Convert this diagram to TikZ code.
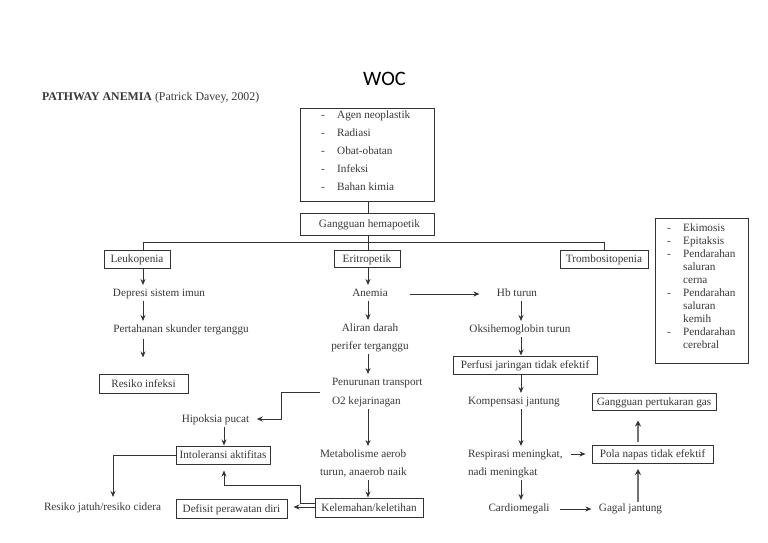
\documentclass[tikz,border=0pt]{standalone}
\usepackage{fontspec}
\setmainfont{Liberation Serif}
\newfontfamily\wocfont{Carlito}
\usetikzlibrary{arrows.meta}
\definecolor{ink}{gray}{0.2}
\definecolor{txt}{gray}{0.22}
\newcommand{\itm}[1]{\makebox[16pt][l]{-}#1}
\tikzset{
  x=1pt,y=-1pt,
  lab/.style={text=txt,font=\fontsize{11.2}{13}\selectfont,inner sep=0pt,text height=9pt,text depth=2pt,outer sep=2.5pt},
  labl/.style={lab,anchor=west},
  bx/.style={draw=ink,line width=1pt,text=txt,font=\fontsize{11.2}{13}\selectfont,inner sep=0pt,text height=9pt,text depth=2pt},
  lst/.style={text=txt,anchor=west,inner sep=0pt,align=left},
  ln/.style={draw=ink,line width=0.9pt},
  arr/.style={ln,-{Stealth[length=6pt,width=5pt]}},
  thk/.style={draw=black!55,line width=1.4pt,-{Stealth[length=6pt,width=6pt,color=ink]}}
}
\begin{document}
\begin{tikzpicture}
\useasboundingbox[fill=white] (0,0) rectangle (768,543);
% titles
\node[text=black,font=\wocfont\fontsize{20.5}{23}\selectfont,inner sep=0pt] (woc) at (384.5,79) {WOC};
\node[labl,font=\fontsize{11.85}{13}\selectfont] (path) at (39.5,97) {\textbf{PATHWAY ANEMIA} (Patrick Davey, 2002)};
% boxes
\node[bx,minimum width=134pt,minimum height=93pt] (cause) at (367,154.5) {};
\node[lst,font=\fontsize{11.2}{18}\selectfont] (causetxt) at (321,151) {\itm{Agen neoplastik}\\\itm{Radiasi}\\\itm{Obat-obatan}\\\itm{Infeksi}\\\itm{Bahan kimia}};
\node[bx,minimum width=134pt,minimum height=22pt] (hema) at (367,224) {\hspace*{5pt}Gangguan hemapoetik};
\node[bx,minimum width=66pt,minimum height=18pt] (leuko) at (137,259) {Leukopenia};
\node[bx,minimum width=66pt,minimum height=17pt] (eri) at (367,258.5) {Eritropetik};
\node[bx,minimum width=88pt,minimum height=18pt] (trombo) at (604,259) {Trombositopenia};
\node[bx,minimum width=93pt,minimum height=145pt] (sign) at (701.5,290.5) {};
\node[lst,font=\fontsize{11.2}{13}\selectfont] (signtxt) at (667,286.5) {\itm{Ekimosis}\\\itm{Epitaksis}\\\itm{Pendarahan}\\\makebox[16pt]{}saluran\\\makebox[16pt]{}cerna\\\itm{Pendarahan}\\\makebox[16pt]{}saluran\\\makebox[16pt]{}kemih\\\itm{Pendarahan}\\\makebox[16pt]{}cerebral};
\node[bx,minimum width=89pt,minimum height=19pt] (infeksi) at (143.5,383.5) {Resiko infeksi};
\node[bx,minimum width=144pt,minimum height=18pt] (perfusi) at (525,365) {Perfusi jaringan tidak efektif};
\node[bx,minimum width=124pt,minimum height=17pt] (gas) at (654,401.5) {Gangguan pertukaran gas};
\node[bx,minimum width=121pt,minimum height=18pt] (pola) at (652.5,454) {Pola napas tidak efektif};
\node[bx,minimum width=94pt,minimum height=18pt] (intol) at (223,455) {Intoleransi aktifitas};
\node[bx,minimum width=111pt,minimum height=19pt] (defisit) at (231.5,508.5) {Defisit perawatan diri};
\node[bx,minimum width=108pt,minimum height=19pt] (lemah) at (369,507.5) {Kelemahan/keletihan};
% plain labels
\node[lab] (depresi) at (159,293) {Depresi sistem imun};
\node[lab] (tahan) at (181,329) {Pertahanan skunder terganggu};
\node[lab] (anemia) at (370,293) {Anemia};
\node[lab] (aliran) at (370,328) {Aliran darah};
\node[lab] (perifer) at (370,346) {perifer terganggu};
\node[labl] (turun) at (329.5,382) {Penurunan transport};
\node[labl] (otwo) at (329.5,401) {O2 kejarinagan};
\node[lab] (hipo) at (215.5,419) {Hipoksia pucat};
\node[lab] (jatuh) at (102.5,507) {Resiko jatuh/resiko cidera};
\node[labl] (meta) at (317.5,454) {Metabolisme aerob};
\node[labl] (anaer) at (317.5,472) {turun, anaerob naik};
\node[lab] (hb) at (517,293) {Hb turun};
\node[lab] (oksi) at (520,329) {Oksihemoglobin turun};
\node[labl] (komp) at (465.5,401) {Kompensasi jantung};
\node[labl] (resp) at (465.5,454) {Respirasi meningkat,};
\node[labl] (nadi) at (465.5,472) {nadi meningkat};
\node[lab] (cardio) at (519,508) {Cardiomegali};
\node[lab] (gagal) at (630.5,508) {Gagal jantung};
% column guides and free ends
\coordinate (colA) at (143,0);
\coordinate (colB) at (368,0);
\coordinate (colC) at (521,0);
\coordinate (colD) at (224,0);
\coordinate (colE) at (638,0);
\coordinate (bus) at (0,242);
% connectors
\draw[ln] (cause.south -| colB) -- (hema.north -| colB);
\draw[ln] (hema.south -| colB) -- (eri.north -| colB);
\draw[ln] (leuko.north -| colA) -- (colA |- bus) -- (trombo.north |- bus) -- (trombo.north);
\draw[arr] (leuko.south -| colA) -- (depresi.north -| colA);
\draw[arr] (depresi.south -| colA) -- (tahan.north -| colA);
\draw[arr,shorten <=2pt,shorten >=16pt] (tahan.south -| colA) -- (infeksi.north -| colA);
\draw[arr] (eri.south -| colB) -- (anemia.north -| colB);
\draw[arr] (anemia.south -| colB) -- (aliran.north -| colB);
\draw[arr] (perifer.south -| colB) -- (turun.north -| colB);
\draw[arr] (otwo.south -| colB) -- (meta.north -| colB);
\draw[arr] (anaer.south -| colB) -- (lemah.north -| colB);
\coordinate (hipoknee) at (281,392);
\coordinate (hipofrom) at (320,392);
\draw[arr] (hipofrom) -- (hipoknee) -- (hipoknee |- hipo.east) -- ([xshift=5pt]hipo.east);
\draw[arr] (hipo.south -| colD) -- (intol.north -| colD);
\coordinate (jatuhx) at (113,0);
\coordinate (jatuhend) at (113,497);
\draw[arr] (intol.west) -- (jatuhx |- intol.west) -- (jatuhend);
\coordinate (lemA) at (315,503);
\coordinate (lemB) at (315,507);
\coordinate (knee) at (300,485);
\draw[ln] (lemA) -- (knee |- lemA) -- (knee) -- (colD |- knee);
\draw[arr] (colD |- knee) -- ([yshift=-6pt]colD |- intol.south);
\draw[arr] (lemB) -- ([xshift=6pt]defisit.east |- lemB);
\coordinate (anemend) at (410,294);
\draw[arr] (anemend) -- ([xshift=-15pt]anemend -| hb.west);
\draw[arr] (hb.south -| colC) -- (oksi.north -| colC);
\draw[arr] (oksi.south -| colC) -- (perfusi.north -| colC);
\draw[arr] (perfusi.south -| colC) -- (komp.north -| colC);
\draw[arr] (komp.south -| colC) -- (resp.north -| colC);
\draw[arr] (nadi.south -| colC) -- (cardio.north -| colC);
\coordinate (respend) at (571,454);
\draw[arr] (respend) -- ([xshift=-6pt]pola.west);
\coordinate (cardend) at (560,509);
\draw[arr] (cardend) -- ([xshift=-5pt]cardend -| gagal.west);
\coordinate (gagalup) at (638,502);
\coordinate (polalow) at (638,469);
\draw[thk] ([yshift=3pt]colE |- pola.north) -- ([yshift=-10pt]colE |- gas.south);
\draw[thk] (gagalup) -- (polalow);
\end{tikzpicture}
\end{document}
